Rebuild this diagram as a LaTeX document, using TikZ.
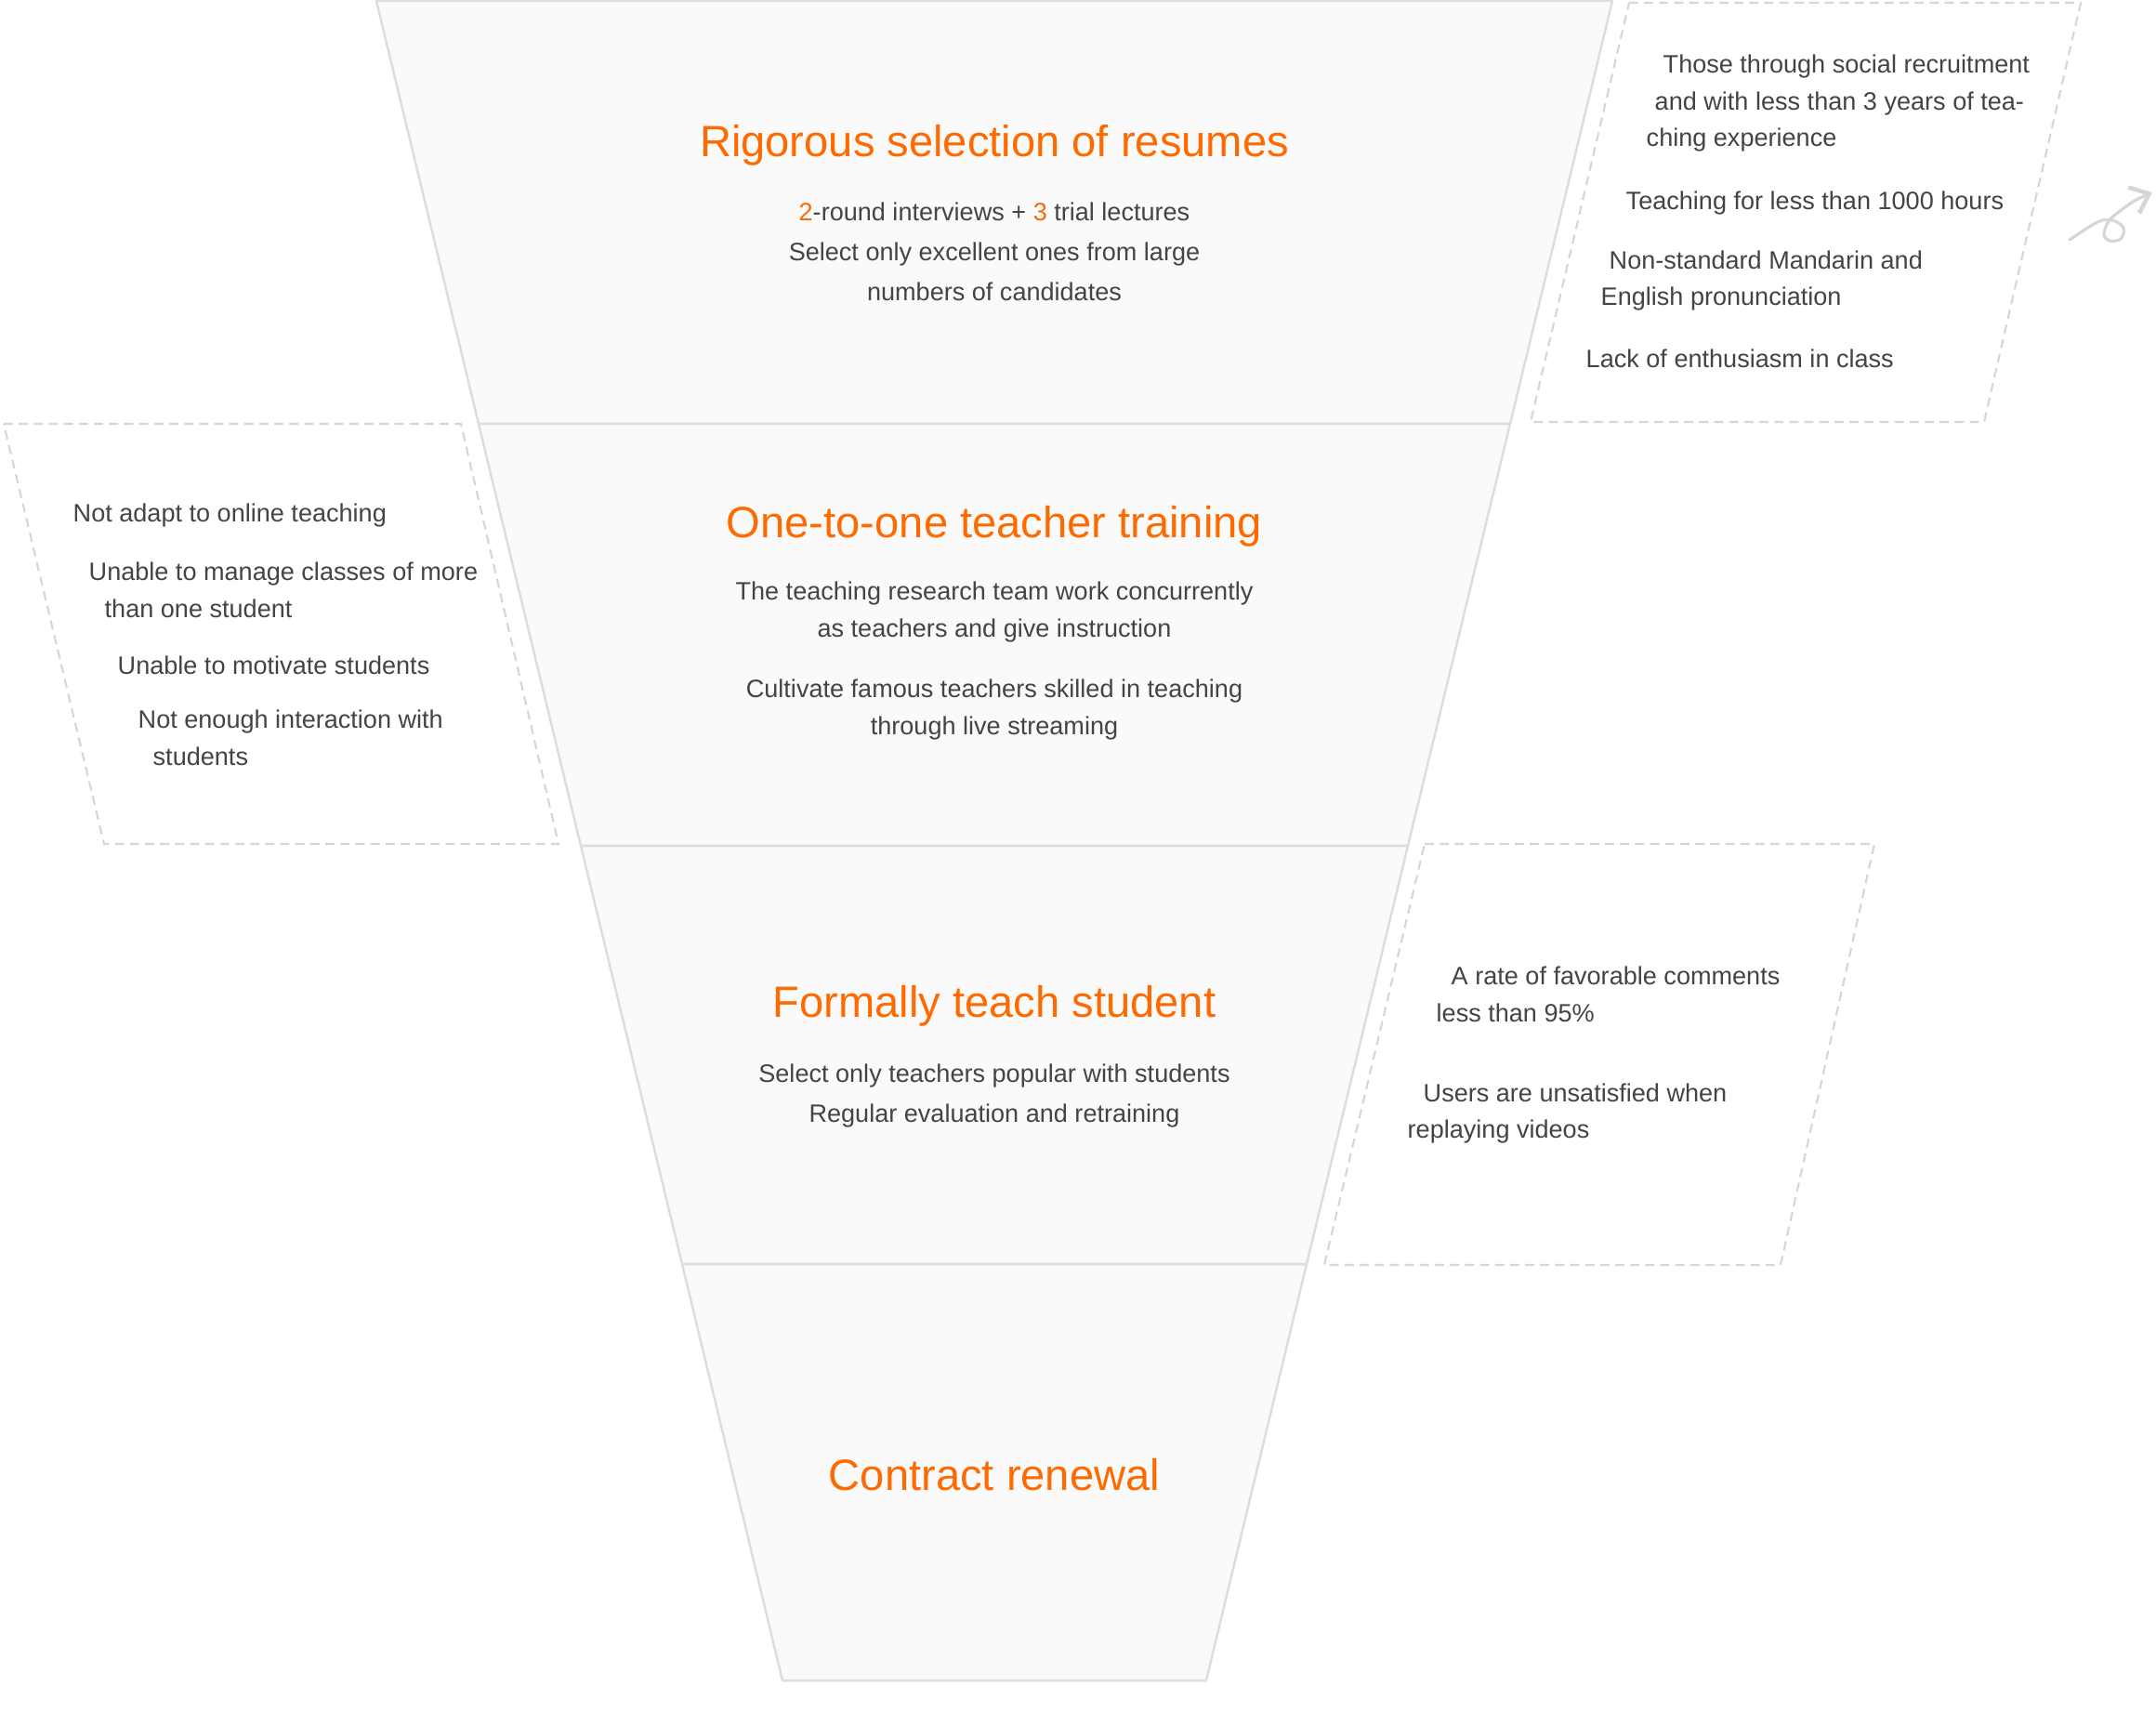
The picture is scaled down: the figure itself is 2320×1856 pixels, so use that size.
\documentclass[tikz,border=0pt]{standalone}
\usepackage{fontspec}
\setmainfont{Liberation Sans}
\usepackage{xcolor}
\usetikzlibrary{arrows.meta, positioning}

\definecolor{brandorange}{HTML}{FF6A00}
\definecolor{textgray}{HTML}{444444}
\definecolor{funnelfill}{HTML}{FAFAFA}
\definecolor{funnelline}{HTML}{DDDDDD}
\definecolor{dashline}{HTML}{D6D6D6}

\begin{document}
\begin{tikzpicture}[
    x=0.01cm, y=-0.01cm,
    stage/.style={draw=funnelline, fill=funnelfill, line width=0.7pt, line join=round},
    notebox/.style={draw=dashline, line width=0.6pt, dash pattern=on 2.8pt off 1.8pt},
    headtext/.style={anchor=base, text=brandorange, inner sep=0pt, font=\fontsize{13.4}{16}\selectfont},
    bodytext/.style={anchor=base, text=textgray, inner sep=0pt, font=\fontsize{7.7}{9}\selectfont},
    notetext/.style={anchor=base west, text=textgray, inner sep=0pt, font=\fontsize{7.7}{9}\selectfont},
    squiggle/.style={draw=dashline, line width=0.9pt, line cap=round, -{Straight Barb[length=1.8mm, width=3mm, line width=1.3pt]}},
]

\fill[white] (0,0) rectangle (2320,1856);
\useasboundingbox (0,0) rectangle (2320,1856);

% funnel corners
\coordinate (f0l) at (405,1);   \coordinate (f0r) at (1735,1);
\coordinate (f1l) at (515,456); \coordinate (f1r) at (1625,456);
\coordinate (f2l) at (625,910); \coordinate (f2r) at (1515,910);
\coordinate (f3l) at (734,1360); \coordinate (f3r) at (1406,1360);
\coordinate (f4l) at (842,1808); \coordinate (f4r) at (1298,1808);

\draw[stage] (f0l) -- (f0r) -- (f1r) -- (f1l) -- cycle;
\draw[stage] (f1l) -- (f1r) -- (f2r) -- (f2l) -- cycle;
\draw[stage] (f2l) -- (f2r) -- (f3r) -- (f3l) -- cycle;
\draw[stage] (f3l) -- (f3r) -- (f4r) -- (f4l) -- cycle;

% side boxes
\draw[notebox] (1753,3) -- (2239,3) -- (2135,454) -- (1647,454) -- cycle;
\draw[notebox] (4,456) -- (496,456) -- (601,908) -- (112,908) -- cycle;
\draw[notebox] (1533,908) -- (2017,908) -- (1916,1361) -- (1425,1361) -- cycle;

% stage texts
\node[headtext] (resumes) at (1070,168) {Rigorous selection of resumes};
\node[bodytext] (resumesa) at (1070,237) {{\color{brandorange}2}-round interviews + {\color{brandorange}3} trial lectures};
\node[bodytext] (resumesb) at (1070,280) {Select only excellent ones from large};
\node[bodytext] (resumesc) at (1070,323) {numbers of candidates};

\node[headtext] (training) at (1070,578) {One-to-one teacher training};
\node[bodytext] (traininga) at (1070,645) {The teaching research team work concurrently};
\node[bodytext] (trainingb) at (1070,685) {as teachers and give instruction};
\node[bodytext] (trainingc) at (1070,750) {Cultivate famous teachers skilled in teaching};
\node[bodytext] (trainingd) at (1070,790) {through live streaming};

\node[headtext] (teaching) at (1070,1094) {Formally teach student};
\node[bodytext] (teachinga) at (1070,1164) {Select only teachers popular with students};
\node[bodytext] (teachingb) at (1070,1207) {Regular evaluation and retraining};

\node[headtext] (renewal) at (1070,1603) {Contract renewal};

% reasons for dropping out
\node[notetext] (recruita) at (1789,78) {Those through social recruitment};
\node[notetext] (recruitb) at (1780,118) {and with less than 3 years of tea-};
\node[notetext] (recruitc) at (1771,157) {ching experience};
\node[notetext] (hours) at (1749,225) {Teaching for less than 1000 hours};
\node[notetext] (mandarina) at (1731,289) {Non-standard Mandarin and};
\node[notetext] (mandarinb) at (1722,328) {English pronunciation};
\node[notetext] (enthusiasm) at (1706,395) {Lack of enthusiasm in class};

\node[notetext] (online) at (78,561) {Not adapt to online teaching};
\node[notetext] (classesa) at (95,624) {Unable to manage classes of more};
\node[notetext] (classesb) at (112,664) {than one student};
\node[notetext] (motivate) at (126,725) {Unable to motivate students};
\node[notetext] (interacta) at (148,783) {Not enough interaction with};
\node[notetext] (interactb) at (164,823) {students};

\node[notetext] (commentsa) at (1561,1059) {A rate of favorable comments};
\node[notetext] (commentsb) at (1545,1099) {less than 95\%};
\node[notetext] (replaya) at (1531,1185) {Users are unsatisfied when};
\node[notetext] (replayb) at (1514,1224) {replaying videos};

% curly arrow
\draw[squiggle] plot[smooth, tension=0.6] coordinates {(2227,258) (2257,239) (2273,237) (2285,245) (2282,257) (2270,259) (2264,252) (2269,238) (2280,228) (2297,216) (2316,207)};

\end{tikzpicture}
\end{document}
